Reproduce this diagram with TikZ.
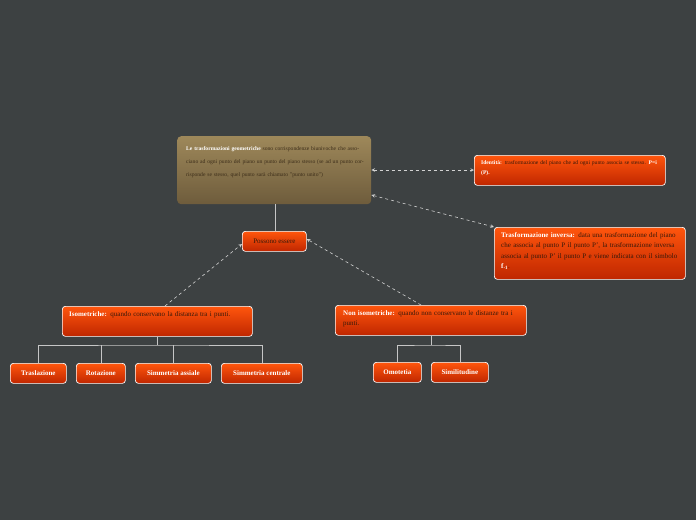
\documentclass[tikz,border=0pt]{standalone}
\usepackage{fontspec}
\setmainfont{Liberation Serif}
\begin{document}
\begin{tikzpicture}[x=1pt,y=-1pt,
 ob/.style={draw=white,line width=0.7pt,rounded corners=3pt,top color=orange!60!red!95!white,bottom color=red!60!orange!75!black,inner sep=0pt},
 leaf/.style={ob,font=\fontsize{7}{8}\selectfont\bfseries,text=white},
 dl/.style={draw=gray!35!white,dashed,line width=0.6pt},
 tl/.style={draw=gray!45!white,line width=0.6pt}]
\useasboundingbox[fill={rgb,255:red,61;green,65;blue,66}] (0,0) rectangle (696,520);
\definecolor{dk}{RGB}{55,25,10}
\definecolor{br}{RGB}{60,45,25}
% main
\node[draw=none,rounded corners=4pt,top color={rgb,255:red,158;green,136;blue,90},bottom color={rgb,255:red,110;green,92;blue,60},minimum width=194pt,minimum height=68pt,anchor=north west,inner sep=0pt] (m) at (177,136) {};
\node[anchor=north west,text width=180pt,align=left,font=\fontsize{5.6}{13}\selectfont,text=br,inner sep=0pt] at (186,146)
 {\textcolor{white}{\textbf{Le trasformazioni geometriche}} sono corrispondenze biunivoche che associano ad ogni punto del piano un punto del piano stesso (se ad un punto corrisponde se stesso, quel punto sarà chiamato "punto unito")};
% identita
\node[ob,minimum width=191pt,minimum height=30pt,anchor=north west] (id) at (474,155) {};
\node[anchor=north west,text width=178pt,align=left,font=\fontsize{5.6}{10}\selectfont,text=dk,inner sep=0pt] at (481,160)
 {\textcolor{white}{\textbf{Identità:}} trasformazione del piano che ad ogni punto associa se stesso. \textcolor{white}{\textbf{P=i (P).}}};
% inversa
\node[ob,minimum width=191pt,minimum height=52pt,anchor=north west] (inv) at (494,227) {};
\node[anchor=north west,text width=178pt,align=left,font=\fontsize{7}{10.5}\selectfont,text=dk,inner sep=0pt] at (501,232)
 {\textcolor{white}{\textbf{Trasformazione inversa:}} data una trasformazione del piano che associa al punto P il punto P', la trasformazione inversa associa al punto P' il punto P e viene indicata con il simbolo \textcolor{white}{\textbf{f\textsubscript{-1}}}.};
% possono
\node[ob,minimum width=64pt,minimum height=20pt,anchor=north west,font=\fontsize{7}{8}\selectfont,text=dk] (p) at (242,231) {Possono essere};
% isometriche
\node[ob,minimum width=190pt,minimum height=30pt,anchor=north west] (iso) at (62,306) {};
\node[anchor=north west,text width=175pt,align=left,font=\fontsize{7}{10}\selectfont,text=dk,inner sep=0pt] at (69,311)
 {\textcolor{white}{\textbf{Isometriche:}} quando conservano la distanza tra i punti.};
\node[ob,minimum width=191pt,minimum height=30pt,anchor=north west] (ni) at (335,305) {};
\node[anchor=north west,text width=178pt,align=left,font=\fontsize{7}{10}\selectfont,text=dk,inner sep=0pt] at (343,310)
 {\textcolor{white}{\textbf{Non isometriche:}} quando non conservano le distanze tra i punti.};
% leaves
\node[leaf,minimum width=56pt,minimum height=20pt,anchor=north west] (l1) at (10,363) {Traslazione};
\node[leaf,minimum width=49pt,minimum height=20pt,anchor=north west] (l2) at (76,363) {Rotazione};
\node[leaf,minimum width=76pt,minimum height=20pt,anchor=north west] (l3) at (135,363) {Simmetria assiale};
\node[leaf,minimum width=81pt,minimum height=20pt,anchor=north west] (l4) at (221,363) {Simmetria centrale};
\node[leaf,minimum width=48pt,minimum height=20pt,anchor=north west] (l5) at (373,362) {Omotetia};
\node[leaf,minimum width=57pt,minimum height=20pt,anchor=north west] (l6) at (431,362) {Similitudine};
% connectors
\draw[tl] (m.south -| 275,0) -- (p.north -| 275,0);
\draw[dl,<->,>=stealth] (m.east |- 0,170) -- (id.west |- 0,170);
\draw[dl,<->,>=stealth] (m.east |- 0,195) -- (inv.north west);
\draw[dl,->,>=stealth] (iso.north -| 165,0) -- (p.west |- 0,244);
\draw[dl,->,>=stealth] (ni.north -| 421,0) -- (p.east |- 0,239);
\coordinate (a) at (157,345); \coordinate (b) at (431,345);
\draw[tl] (iso.south -| a) -- (a);
\draw[tl] (l1.north) |- (a) -| (l4.north);
\draw[tl] (l2.north) -- (l2.north |- a);
\draw[tl] (l3.north) -- (l3.north |- a);
\draw[tl] (ni.south -| b) -- (b);
\draw[tl] (l5.north) |- (b) -| (l6.north);
\end{tikzpicture}
\end{document}
